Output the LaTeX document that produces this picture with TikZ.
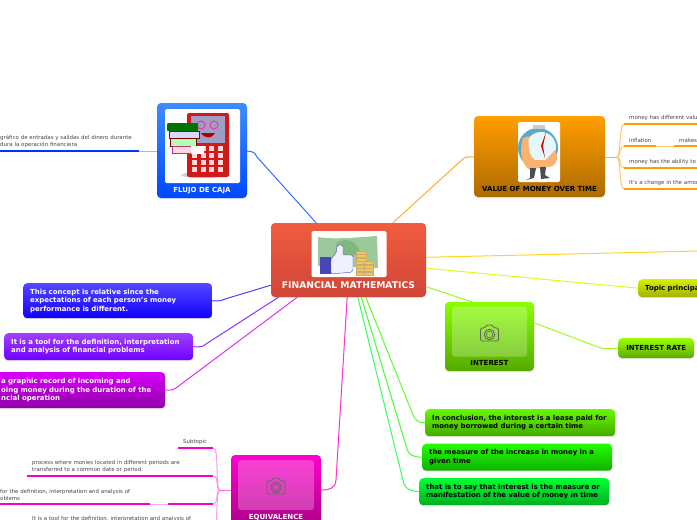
\documentclass[tikz,border=0pt]{standalone}
\usepackage{fontspec}
\setmainfont{DejaVu Sans}
\usetikzlibrary{shadows}
\definecolor{linkblue}{HTML}{2F70FF}
\definecolor{linkorange}{HTML}{FFAC30}
\definecolor{linkyellow}{HTML}{FFD626}
\definecolor{linkpear}{HTML}{E0FA20}
\definecolor{linklime}{HTML}{A0FA20}
\definecolor{linkgreen}{HTML}{40FF30}
\definecolor{linkindigo}{HTML}{4A40FF}
\definecolor{linkviolet}{HTML}{9030FF}
\definecolor{linkmagenta}{HTML}{DC30F0}
\definecolor{linkpink}{HTML}{FF30D4}
\definecolor{notegray}{HTML}{444444}
\definecolor{ruleorange}{HTML}{FF9E00}
\definecolor{rulepink}{HTML}{F400C8}
\tikzset{
  card/.style={rounded corners=4pt,inner xsep=0pt,align=center,font=\fontsize{7}{8}\bfseries,
    drop shadow={opacity=.2,shadow xshift=0pt,shadow yshift=-1pt}},
  bubble/.style={rounded corners=4pt,inner xsep=7pt,inner ysep=0pt,align=left,anchor=north west,
    font=\fontsize{6.95}{8.6}\selectfont\bfseries,
    drop shadow={opacity=.2,shadow xshift=0pt,shadow yshift=-1pt}},
  photo/.style={fill=white,rounded corners=1.5pt,inner sep=0pt},
  blank/.style={fill=white,fill opacity=.25,rounded corners=3pt,inner sep=0pt},
  note/.style={anchor=south west,inner xsep=5pt,inner ysep=3pt,align=left,text=notegray,
    font=\fontsize{5.45}{7.5}\selectfont},
  link/.style={line width=1pt},
  rule/.style={line width=2pt},
  camera/.pic={
    \draw[line width=.9pt,black!60,rounded corners=1.5pt]
      (-9,-5) -- (-4.5,-5) -- (-3,-8) -- (3,-8) -- (4.5,-5) -- (9,-5) -- (9,8) -- (-9,8) -- cycle;
    \draw[line width=.9pt,black!60] (0,1.5) circle (5.2);
    \draw[line width=.6pt,black!60] (0,1.5) circle (3.2);
  }
}
\begin{document}
\begin{tikzpicture}[x=1pt,y=-1pt]
  \useasboundingbox (0,0) rectangle (697,520);
  \clip (0,0) rectangle (697,520);

  \coordinate (yellowend) at (700,251);
  \coordinate (valuestem) at (617,157);
  \coordinate (equivstem) at (220,490);
  \coordinate (equivlow) at (213,530);
  \coordinate (equivmid) at (168,504);
  \coordinate (equivmidend) at (213,504);

  \node[card,minimum width=155pt,text height=57pt,text depth=0pt,inner ysep=8.5pt,text=white,
    top color={rgb,255:red,240;green,92;blue,62},bottom color={rgb,255:red,208;green,70;blue,56},font=\fontsize{9.2}{10}\bfseries] (root) at (348.5,260) {FINANCIAL MATHEMATICS};
  \node[card,minimum width=90pt,text height=83pt,text depth=0pt,inner ysep=6pt,text=white,
    top color={rgb,255:red,63;green,140;blue,255},bottom color={rgb,255:red,0;green,72;blue,255}] (flujo) at (202,150.5) {FLUJO DE CAJA};
  \node[card,minimum width=131pt,text height=69pt,text depth=0pt,inner ysep=6pt,text=black,
    top color={rgb,255:red,255;green,158;blue,0},bottom color={rgb,255:red,173;green,106;blue,0}] (value) at (539.5,156.5) {VALUE OF MONEY OVER TIME};
  \node[card,minimum width=89pt,text height=57pt,text depth=0pt,inner ysep=6pt,text=black,
    top color={rgb,255:red,136;green,255;blue,0},bottom color={rgb,255:red,85;green,170;blue,0}] (interest) at (489.5,336.5) {INTEREST};
  \node[card,minimum width=90pt,text height=38pt,text depth=0pt,inner ysep=26pt,text=white,
    top color={rgb,255:red,255;green,0;blue,204},bottom color={rgb,255:red,150;green,0;blue,120}] (equiv) at (276,500) {EQUIVALENCE};

  \node[bubble,minimum width=189pt,text width=175pt,minimum height=35pt,text=white,
    top color={rgb,255:red,85;green,72;blue,255},bottom color={rgb,255:red,17;green,0;blue,255}] (relative) at (23,283) {This concept is relative since the\\expectations of each person's money\\performance is different.};
  \node[bubble,minimum width=189pt,text width=175pt,minimum height=27pt,text=white,
    top color={rgb,255:red,160;green,64;blue,255},bottom color={rgb,255:red,112;green,0;blue,255}] (tool) at (4,333) {It is a tool for the definition, interpretation\\and analysis of financial problems};
  \node[bubble,minimum width=171pt,text width=157pt,minimum height=36pt,text=white,
    top color={rgb,255:red,216;green,0;blue,248},bottom color={rgb,255:red,144;green,0;blue,168}] (record) at (-6,372) {a graphic record of incoming and\\oing money during the duration of the\\ncial operation};
  \node[bubble,minimum width=76pt,minimum height=20pt,text=black,
    top color={rgb,255:red,153;green,255;blue,0},bottom color={rgb,255:red,95;green,168;blue,0}] (rate) at (618,338) {INTEREST RATE};
  \node[bubble,minimum width=84pt,text width=70pt,minimum height=18pt,text=black,
    top color={rgb,255:red,216;green,240;blue,0},bottom color={rgb,255:red,160;green,176;blue,0}] (principal) at (638,279) {Topic principa};
  \node[bubble,minimum width=190pt,text width=176pt,minimum height=27pt,text=black,
    top color={rgb,255:red,102;green,248;blue,0},bottom color={rgb,255:red,68;green,170;blue,0}] (lease) at (425,409) {In conclusion, the interest is a lease paid for\\money borrowed during a certain time};
  \node[bubble,minimum width=190pt,text width=176pt,minimum height=27pt,text=black,
    top color={rgb,255:red,34;green,255;blue,0},bottom color={rgb,255:red,16;green,176;blue,0}] (measure) at (422,443.5) {the measure of the increase in money in a\\given time};
  \node[bubble,minimum width=190pt,text width=176pt,minimum height=27pt,text=black,
    top color={rgb,255:red,0;green,255;blue,51},bottom color={rgb,255:red,0;green,176;blue,32}] (manifest) at (419,478) {that is to say that interest is the measure or\\manifestation of the value of money in time};

  \node[note,text width=134pt] (flujonote) at (-5,151) {gráfico de entradas y salidas del dinero durante\\dura la operación financiera};
  \node[note,text width=90pt] (value1) at (624,124) {money has different valu};
  \node[note,text width=22pt] (value2) at (624,146) {inflation};
  \node[note,text width=30pt] (value2b) at (674,146) {makes};
  \node[note,text width=90pt] (value3) at (624,168) {money has the ability to};
  \node[note,text width=90pt] (value4) at (624,189) {It's a change in the amou};
  \node[note,text width=25pt] (equiv1) at (178,448) {Subtopic};
  \node[note,text width=176pt] (equiv2) at (27,476) {process where monies located in different periods are\\transferred to a common date or period.};
  \node[note,text width=145pt] (equiv3) at (-5,504) {for the definition, interpretation and analysis of\\oblems};
  \node[note,text width=176pt,anchor=north west,inner ysep=0pt] (equiv4) at (27,516) {It is a tool for the definition, interpretation and analysis of};

  \draw[link,linkblue] (root.131) -- (257,157) .. controls (254,152) .. (flujo.east |- 0,151);
  \draw[link,linkblue!50!white] (flujonote.south east) -- (flujo.west |- flujonote.south east);
  \draw[rule,blue!80!cyan] (flujonote.south west) -- (flujonote.south east);
  \draw[link,linkorange] (root.40) -- (464,158) .. controls (467,156) and (470,157) .. (value.west |- 0,157);
  \draw[link,linkyellow] (root.2) -- (yellowend);
  \draw[link,linkpear] (root.-6) -- (principal.west);
  \draw[link,linklime] (root.-19) -- (interest.117);
  \draw[link,linklime] (interest.17) -- (598,347) .. controls (603,349) .. (rate.west);
  \draw[link,linkgreen!80!lime] (root.295) -- (413,415) .. controls (416,421) and (419,423) .. (lease.west);
  \draw[link,linkgreen] (root.289) -- (407,449) .. controls (409,455) and (413,457) .. (measure.west);
  \draw[link,linkgreen!80!cyan] (root.284) -- (404,484) .. controls (406,489) and (410,491) .. (manifest.west);
  \draw[link,linkpink] (root.268) -- (336,480) .. controls (335,489) and (329,490) .. (equiv.east |- 0,490);
  \draw[link,linkindigo] (root.198) -- (225,299) .. controls (220,301) .. (relative.east);
  \draw[link,linkviolet] (root.208) -- (206,344) .. controls (202,347) .. (tool.east);
  \draw[link,linkmagenta] (root.216) -- (176,388) .. controls (173,390) .. (record.east);

  \draw[link,linkorange] (value.east |- valuestem) -- (valuestem);
  \foreach \n in {value1,value2,value3,value4}
    \draw[link,linkorange!70!white] (valuestem) .. controls +(4,0) and +(-5,0) .. (\n.south west);
  \foreach \n in {value1,value2,value2b,value3,value4}
    \draw[rule,ruleorange] (\n.south west) -- (\n.south east);
  \draw[link,linkorange!70!white] (value2.south east) -- (value2b.south west);

  \draw[link,linkpink!70!white] (equiv.west |- equivstem) -- (equivstem);
  \foreach \n in {equiv1.south east,equiv2.south east,equivmidend,equivlow}
    \draw[link,linkpink!50!white] (equivstem) .. controls +(-5,0) and +(6,0) .. (\n);
  \foreach \n in {equiv1,equiv2,equiv3}
    \draw[rule,rulepink] (\n.south west) -- (\n.south east);
  \draw[rule,rulepink] (equivmid) -- (equivmidend);
  \draw[link,linkpink!40!white] (equiv3.south east) -- (equivmid);

  \node[photo,minimum width=75pt,minimum height=46pt] (rootpic) at (349,254) {};
  \node[photo,minimum width=75pt,minimum height=74pt] (flujopic) at (202.5,146) {};
  \node[photo,minimum width=42pt,minimum height=60pt] (valuepic) at (539,152) {};
  \node[blank,minimum width=75pt,minimum height=50pt] (interestpic) at (489.5,331.6) {};
  \node[blank,minimum width=76pt,minimum height=50pt] (equivpic) at (276,485) {};
  \pic at (489.5,333) {camera};
  \pic at (276,486) {camera};

  \fill[green!30!gray!60!white] (318,237) .. controls (335,240) and (360,237) .. (377,236) -- (378,268) -- (318,266) -- cycle;
  \fill[green!45!black!50] (336,244) .. controls (345,236) and (358,240) .. (360,254) -- (340,258) -- cycle;
  \fill[blue!45!gray] (320,257) rectangle (331,274);
  \fill[blue!6!white,draw=blue!40!gray,line width=.4pt,rounded corners=2pt]
    (331,258) -- (336,254) -- (337,245) -- (343,245) -- (343,255) -- (353,255) -- (353,272) -- (331,274) -- cycle;
  \foreach \i in {0,...,6}
    \fill[yellow!55!brown!85!white,draw=brown!70,line width=.2pt] (356,275-3.5*\i) rectangle (366,272-3.5*\i);
  \foreach \i in {0,...,3}
    \fill[yellow!55!brown!85!white,draw=brown!70,line width=.2pt] (364,275-3.5*\i) rectangle (373,272-3.5*\i);

  \fill[gray!35] (203,175) ellipse (22 and 3);
  \fill[red!80!black!90!white,rounded corners=2pt] (187,113) rectangle (229,177);
  \fill[blue!25!gray!60!white] (191,116) rectangle (225,143);
  \draw[magenta!80!white,line width=1pt] (201,125) circle (4) (214,125) circle (4);
  \fill[red!70!black] (201,133) .. controls (205,139) and (212,139) .. (215,133) -- cycle;
  \foreach \i in {0,1,2,3}
    \foreach \j in {0,1,2,3}
      \fill[white!85!red] (192+8.5*\i,146+7*\j) rectangle (197+8.5*\i,151+7*\j);
  \fill[green!45!black,rounded corners=1pt] (167,123) rectangle (198,131);
  \fill[blue!15!white,draw=green!30!black,line width=.3pt] (169,131) rectangle (199,138);
  \fill[green!30!white,draw=red!50!black,line width=.3pt] (170,138) rectangle (196,146);
  \fill[red!15!white,draw=magenta!70!black,line width=.3pt] (172,146) rectangle (192,153);
  \fill[white] (191,146) rectangle (204,154);

  \fill[cyan!55!gray] (538,148) circle (20);
  \fill[cyan!10!white] (541,147) circle (15);
  \fill[gray!40] (533,125) rectangle (545,129);
  \fill[red!85!black] (546,132) -- (541,146) -- (545,158) -- (543,146) -- cycle;
  \fill[orange!55!white!90!brown] (523,138) .. controls (519,150) and (521,165) .. (530,170) -- (552,165) -- (552,160) -- (535,160) .. controls (528,155) and (528,145) .. (529,136) -- cycle;
  \fill[orange!55!white!90!brown] (555,150) .. controls (560,160) and (555,168) .. (546,167) -- (546,160) -- cycle;
  \fill[cyan!25!black] (530,168) -- (536,168) -- (534,178) -- (526,180) -- (530,178) -- cycle;
  \fill[cyan!25!black] (540,167) -- (546,167) -- (545,175) -- (550,178) -- (541,179) -- cycle;
\end{tikzpicture}
\end{document}
